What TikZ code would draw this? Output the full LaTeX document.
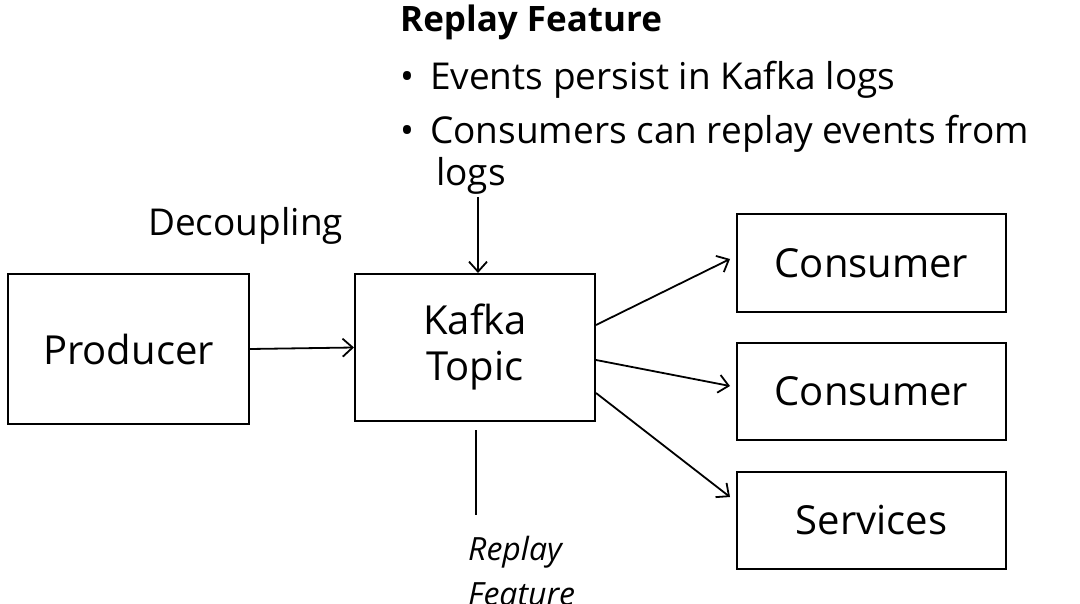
\documentclass[tikz,border=0pt]{standalone}
\usepackage{fontspec}
\setmainfont{Open Sans}
\usetikzlibrary{arrows.meta}
\begin{document}
\begin{tikzpicture}[x=1pt,y=-1pt,
  box/.style={draw,line width=2pt,inner sep=0pt},
  lbl/.style={font=\fontsize{40}{50}\selectfont},
  arr/.style={line width=1.8pt,-{Straight Barb[length=10pt,width=18pt,line width=1.8pt]}},
  txt/.style={font=\fontsize{37}{44}\selectfont,anchor=west,inner sep=0pt}]
\clip (0,0) rectangle (1080,604);
\fill[white] (0,0) rectangle (1080,604);
\node[box,minimum width=241pt,minimum height=150pt] (prod) at (128.5,349) {};
\node[lbl] at (prod) {Producer};
\node[box,minimum width=240pt,minimum height=147pt] (kafka) at (475,347.5) {};
\node[lbl,align=center] at (kafka) {Kafka\\[-4pt]Topic};
\node[box,minimum width=269pt,minimum height=98pt] (c1) at (871.5,263) {};
\node[lbl] at (c1) {Consumer};
\node[box,minimum width=269pt,minimum height=97pt] (c2) at (871.5,391.5) {};
\node[lbl] at (c2) {Consumer};
\node[box,minimum width=269pt,minimum height=97pt] (s) at (871.5,520.5) {};
\node[lbl] at (s) {Services};
\node[txt,font=\fontsize{35}{40}\selectfont\bfseries] (title) at (400,22) {Replay Feature};
\node[txt] (b1) at (400,80) {•\hspace{16pt}Events persist in Kafka logs};
\node[txt] (b2) at (400,134) {•\hspace{16pt}Consumers can replay events from};
\node[txt] (b3) at (436,176) {logs};
\node[txt] (dec) at (148,226) {Decoupling};
\node[txt,font=\fontsize{32}{36}\selectfont\itshape] (rf1) at (468,552) {Replay};
\node[txt,font=\fontsize{32}{36}\selectfont\itshape] (rf2) at (468,594) {Feature};
\coordinate (t1) at (478,197);
\coordinate (bt) at (476,515);
\draw[arr] (prod.east) -- (kafka.west);
\draw[arr] (t1) -- (kafka.north-|t1);
\draw[line width=1.8pt] (476,430) -- (bt);
\draw[arr] (kafka.east|-0,325) -- (730,259);
\draw[arr] (kafka.east|-0,360) -- (730,386);
\draw[arr] (kafka.east|-0,393) -- (730,497);
\end{tikzpicture}
\end{document}
